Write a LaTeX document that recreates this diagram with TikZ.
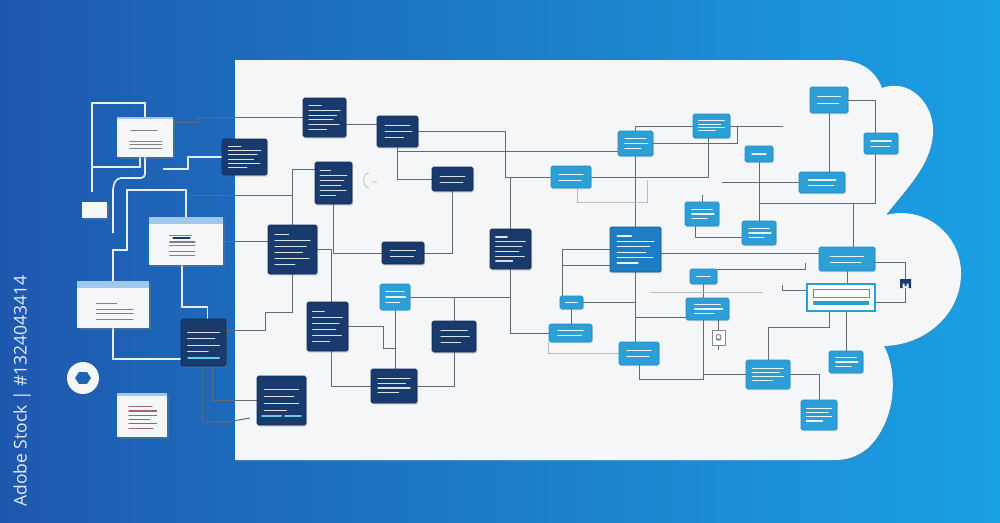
\documentclass[tikz,border=0pt]{standalone}
\usepackage{fontspec}
\usetikzlibrary{fit,shadows,shapes.geometric,calc}
\definecolor{bgL}{RGB}{30,88,174}
\definecolor{bgR}{RGB}{26,160,228}
\definecolor{navy}{RGB}{24,58,108}
\definecolor{navyB}{RGB}{16,42,86}
\definecolor{lblue}{RGB}{44,160,214}
\definecolor{lblueB}{RGB}{30,138,198}
\definecolor{mblue}{RGB}{30,124,194}
\definecolor{paper}{RGB}{245,246,248}
\definecolor{conn}{RGB}{100,106,116}
\definecolor{wline}{RGB}{230,238,248}
\definecolor{cardgray}{RGB}{128,128,138}
\definecolor{cyanbar}{RGB}{96,204,238}
\definecolor{hdr}{RGB}{160,200,232}
\definecolor{hexblue}{RGB}{32,100,180}
\newfontfamily\wmfont{Open Sans}
\pgfdeclarelayer{back}\pgfdeclarelayer{wires}
\pgfsetlayers{back,wires,main}
\def\lnA{0.2/0.14/0.42,0.32/0.14/0.86,0.44/0.14/0.78,0.56/0.14/0.7,0.68/0.14/0.84,0.8/0.14/0.55}
\def\lnB{0.28/0.15/0.85,0.42/0.15/0.75,0.56/0.15/0.85,0.7/0.15/0.6}
\def\lnC{0.3/0.2/0.8,0.5/0.2/0.85,0.7/0.2/0.65}
\def\lnD{0.38/0.2/0.8,0.64/0.2/0.75}
\def\lnE{0.5/0.25/0.75}
\def\lnWa{0.34/0.25/0.72,0.61/0.23/0.8,0.69/0.23/0.8,0.78/0.23/0.8}
\def\lnWc{0.39/0.28/0.57,0.52/0.28/0.62,0.6/0.28/0.62,0.72/0.28/0.62,0.8/0.28/0.62}
\def\lnWd{0.47/0.27/0.55,0.6/0.27/0.78,0.7/0.27/0.78,0.82/0.27/0.78}
\def\lnWf{0.3/0.24/0.7,0.41/0.24/0.79,0.52/0.24/0.79,0.61/0.24/0.65,0.7/0.24/0.79,0.8/0.24/0.72}
\newcommand\bx[8]{\node[#6, fit={(#2,#3) (#4,#5)}] (#1) {};
  \foreach \fy/\xa/\xb in #7 {\draw[txl, #8] ({#2+\xa*(#4-#2)},{#3+\fy*(#5-#3)}) -- ({#2+\xb*(#4-#2)},{#3+\fy*(#5-#3)});}}
\tikzset{
  navybox/.style={fill=navy, draw=navyB, line width=0.6pt, inner sep=0pt, rounded corners=1.5pt,
    drop shadow={shadow xshift=1.2pt, shadow yshift=-1.6pt, opacity=0.3}},
  lbox/.style={fill=lblue, draw=lblueB, line width=0.6pt, inner sep=0pt, rounded corners=1.5pt,
    drop shadow={shadow xshift=1pt, shadow yshift=-1.4pt, opacity=0.18}},
  mbox/.style={fill=mblue, draw=lblueB!70!black, line width=0.8pt, inner sep=0pt, rounded corners=1.5pt,
    drop shadow={shadow xshift=1pt, shadow yshift=-1.4pt, opacity=0.22}},
  card/.style={fill=paper, inner sep=0pt,
    drop shadow={shadow xshift=2pt, shadow yshift=-2pt, opacity=0.35}},
  txl/.style={line width=1.1pt, line cap=round},
  cl/.style={draw=conn, line width=1pt},
  faint/.style={draw=conn!45, line width=0.9pt},
  wl/.style={draw=wline, line width=1.7pt},
}
\begin{document}
\begin{tikzpicture}[x=1pt,y=-1pt]
\useasboundingbox (0,0) rectangle (1000,522);
\begin{pgfonlayer}{back}
\fill[left color=bgL, right color=bgR] (0,0) rectangle (1000,522);
\path[fill=paper, drop shadow={shadow xshift=1.5pt, shadow yshift=-2pt, opacity=0.18}]
  (235,60) -- (838,60)
  .. controls (862,60) and (876,72) .. (882,88)
  .. controls (908,78) and (934,102) .. (933,132)
  .. controls (932,165) and (905,190) .. (886,215)
  .. controls (925,205) and (962,235) .. (961,275)
  .. controls (960,315) and (925,345) .. (884,346)
  .. controls (898,372) and (897,420) .. (868,448)
  .. controls (858,456) and (848,460) .. (835,460)
  -- (235,460) -- cycle;
\end{pgfonlayer}

% watermark caption
\node[rotate=90, text=white!88!bgL, font=\wmfont\fontsize{17.5}{20}\selectfont] (wm) at (22,391) {Adobe Stock | \#1324043414};

% white cards on the blue
\bx{W1}{117}{117}{173}{157}{card}{\lnWa}{cardgray}
\fill[hdr] (W1.north west) rectangle ([yshift=-2]W1.north east);
\node[card, fit={(82,202) (107,218)}] (W2) {};
\bx{W3}{149}{217}{223}{265}{card}{\lnWc}{cardgray}
\fill[hdr] (W3.north west) rectangle ([yshift=-7]W3.north east);
\draw[txl, navy] (173,238) -- (190,238);
\bx{W4}{77}{281}{149}{328}{card}{\lnWd}{cardgray}
\fill[hdr] (W4.north west) rectangle ([yshift=-7]W4.north east);
\node[circle, fill=paper, minimum size=32pt, inner sep=0pt] (W5) at (83,378) {};
\node[regular polygon, regular polygon sides=6, fill=hexblue, minimum size=16pt, inner sep=0pt, yscale=0.85] (W5i) at (W5) {};
\bx{W6}{117}{393}{167}{437}{card}{\lnWf}{cardgray!80!red}
\fill[hdr] (W6.north west) rectangle ([yshift=-3]W6.north east);

% navy boxes
\bx{D1}{303}{98}{346}{137}{navybox}{\lnA}{white!85!navy}
\bx{D2}{222}{139}{267}{175}{navybox}{\lnA}{white!85!navy}
\bx{D3}{268}{225}{317}{274}{navybox}{\lnA}{white!85!navy}
\bx{D4}{315}{162}{352}{204}{navybox}{\lnA}{white!85!navy}
\bx{D5}{181}{319}{226}{366}{navybox}{\lnB}{white!85!navy}
\draw[txl, cyanbar, line width=2pt] (188,358) -- (219,358);
\bx{D6}{257}{376}{306}{425}{navybox}{\lnB}{white!85!navy}
\draw[txl, cyanbar, line width=2pt] (262,416) -- (281,416) (285,416) -- (301,416);
\bx{D7}{377}{116}{418}{147}{navybox}{\lnC}{white!85!navy}
\bx{D8}{432}{167}{473}{191}{navybox}{\lnD}{white!85!navy}
\bx{D9}{382}{242}{424}{264}{navybox}{\lnD}{white!85!navy}
\bx{D10}{490}{229}{531}{269}{navybox}{\lnA}{white!85!navy}
\bx{D11}{307}{302}{348}{351}{navybox}{\lnA}{white!85!navy}
\bx{D12}{432}{321}{476}{352}{navybox}{\lnC}{white!85!navy}
\bx{D13}{371}{369}{417}{403}{navybox}{\lnB}{white!85!navy}

% light blue boxes
\bx{L1}{380}{284}{410}{310}{lbox}{\lnC}{white!90!lblue}
\bx{L2}{551}{166}{591}{188}{lbox}{\lnD}{white!90!lblue}
\bx{L3}{618}{131}{653}{156}{lbox}{\lnC}{white!90!lblue}
\bx{L4}{693}{114}{730}{138}{lbox}{\lnB}{white!90!lblue}
\bx{L5}{745}{146}{773}{162}{lbox}{\lnE}{white!90!lblue}
\bx{L6}{685}{202}{719}{226}{lbox}{\lnC}{white!90!lblue}
\bx{L7}{742}{221}{776}{245}{lbox}{\lnC}{white!90!lblue}
\bx{L8}{610}{227}{661}{272}{mbox}{\lnA}{white!90!lblue}
\bx{L9}{810}{87}{848}{113}{lbox}{\lnD}{white!90!lblue}
\bx{L10}{864}{133}{898}{154}{lbox}{\lnD}{white!90!lblue}
\bx{L11}{799}{172}{845}{193}{lbox}{\lnD}{white!90!lblue}
\bx{L12}{819}{247}{875}{271}{lbox}{\lnD}{white!90!lblue}
\node[fill=white, draw=lblue, line width=2pt, inner sep=0pt, fit={(807,284) (875,311)},
  drop shadow={shadow xshift=1pt, shadow yshift=-1.4pt, opacity=0.18}] (L13) {};
\draw[lblue, line width=0.9pt] (813,289) rectangle (869,297);
\fill[lblue] (813,301) rectangle (869,305);
\bx{L14}{829}{351}{863}{373}{lbox}{\lnC}{white!90!lblue}
\bx{L15}{746}{360}{790}{389}{lbox}{\lnB}{white!90!lblue}
\bx{L16}{801}{400}{837}{430}{lbox}{\lnB}{white!90!lblue}
\bx{L17}{690}{269}{717}{284}{lbox}{\lnE}{white!90!lblue}
\bx{L18}{686}{298}{729}{320}{lbox}{\lnC}{white!90!lblue}
\bx{L19}{560}{296}{583}{309}{lbox}{\lnE}{white!90!lblue}
\bx{L20}{549}{324}{592}{342}{lbox}{\lnD}{white!90!lblue}
\bx{L21}{619}{342}{659}{365}{lbox}{\lnD}{white!90!lblue}

% small icons
\node[inner sep=0pt, minimum width=11pt, minimum height=9pt] (icon) at (905.5,283.5) {};
\fill[navy] (900,279) rectangle (911,283.5) (900,283) rectangle (902.5,288) (908.5,283) rectangle (911,288) (904.5,283) rectangle (906.5,286);
\node[draw=conn!80, fill=white, line width=0.7pt, inner sep=0pt, fit={(712,330) (725,345)}] (ic2) {};
\draw[conn, line width=0.7pt] (718.5,337) circle (2.5pt) (716,340) -- (721,340);
\draw[conn!45, line width=0.7pt] (369,173) .. controls (362,173) and (362,188) .. (369,188) (372,182) -- (377,182);

\begin{pgfonlayer}{wires}
% white lines on the blue
\draw[wl] (W1.north) -- ++(0,-14) -| (92,192);
\draw[wl] (92,167) -| ([xshift=-5]W1.south);
\draw[wl, rounded corners=4pt] (W1.south) -- (145,178) -- (117,178) -- (113,186) -- (113,233);
\draw[wl] (W4.north) -- (113,250) -| (127,190) -| (W3.north);
\draw[wl] (163,169) -| (188,157) -- (D2.west);
\draw[wl] ([xshift=-4]W3.south) -- (182,307) -| ([xshift=4]D5.north);
\draw[wl] (W4.south) |- ([yshift=-16.5]D5.west);
% grey connectors
\draw[cl] ([yshift=15]W1.east) -- (198,122) |- (D1.west);
\draw[cl] (190,195) -- (292.5,195);
\draw[cl] ([yshift=14]D4.west) -| (D3.north);
\draw[cl] (W3.east) -- (W3.east -| D3.west);
\draw[cl] ([yshift=12.5]D5.east) -| (265,312) -| (D3.south);
\draw[cl] ([xshift=-1.5]D5.south) |- (227,422) -- (250,418);
\draw[cl] ([xshift=8.5]D5.south) |- (D6.west);
\draw[cl] ([yshift=-7]D1.east) -- ([yshift=-7]D1.east -| D7.west);
\draw[cl] (D7.east) -| (505,177) -- (L2.west);
\draw[cl] (D10.north) -- (D10.north |- L2.west);
\draw[cl] (D7.south) |- (D8.west);
\draw[cl] ([yshift=-4]D7.south) -- ([yshift=-4]D7.south -| L3.west);
\draw[cl] (D8.south) |- (D9.east);
\draw[cl] (D4.south) |- (D9.west);
\draw[cl] (D3.east) -| ([xshift=4]D11.north);
\draw[cl] (L1.south) -- (L1.south |- D13.north);
\draw[cl] (D11.east) -| (383,348) -- (L1.south |- 0,348);
\draw[cl] ([xshift=4]D11.south) |- (D13.west);
\draw[cl] (D13.east) -| (D12.south);
\draw[cl] (D12.north) -- (D12.north |- L1.east);
\draw[cl] (L1.east) -- (L1.east -| D10.south);
\draw[cl] (D10.south) |- (L20.west);
\draw[cl] (L2.east) -| ([xshift=-3]L4.south);
\draw[cl] (L3.north) |- (L4.west);
\draw[cl] (L3.east) -| (737,126) -- (L4.east);
\draw[cl] (L4.east) -- (783,126);
\draw[cl] (L3.south) -- (L8.north);
\draw[faint] ([xshift=6]L2.south) |- (647,202) -- (647,180);
\draw[cl] ([yshift=-3.5]L8.east) -- ([yshift=-3.5]L8.east -| L12.west);
\draw[cl] (L8.west) -| ([xshift=-9.5]L19.north);
\draw[cl] ([yshift=-15.5]L8.west) -- ++(-48,0);
\draw[cl] (L19.south) -- (L19.south |- L20.north);
\draw[cl] (L19.east) -- (L19.east -| L8.south);
\draw[cl] (L8.south) -- (L8.south |- L21.north);
\draw[cl] ([yshift=-8]L18.west) -- ([yshift=-8]L18.west -| L8.south);
\draw[faint] (L20.south west) |- (L21.west);
\draw[cl] (L21.south) -- ++(0,14) -| ([xshift=-4.5]L18.south);
\draw[cl] (L15.west) -- ([xshift=-4.5]L18.south |- L15.west);
\draw[cl] (L17.south) -- (L17.south |- L18.north);
\draw[cl] ([yshift=7.5]L17.east) -- (805,269) -- (805,263);
\draw[faint] (650,292) -- (763,292);
\draw[cl] ([yshift=7.5]L13.west) -- (782,290) -- (782,285);
\draw[cl] (L5.south) -- (L7.north);
\draw[cl] (L6.north) -- ++(0,-7);
\draw[cl] ([xshift=-7]L6.south) |- ([yshift=-4]L7.west);
\draw[cl] (L9.south) -- (L9.south |- L11.north);
\draw[cl] (L9.east) -| ([xshift=-6]L10.north);
\draw[cl] ([xshift=-6]L10.south) |- (L5.south |- 0,203);
\draw[cl] ([xshift=6]L12.north) -- ++(0,-44);
\draw[cl] (L11.west) -- ++(-77,0);
\draw[cl] ([yshift=-3]L12.east) -| (icon.north);
\draw[cl] ([yshift=-4.5]L13.east) -| (icon.south);
\draw[cl] (L12.south) -- (L12.south |- L13.north);
\draw[cl] ([xshift=-11.5]L13.south) -- ++(0,15) -| (L15.north);
\draw[cl] (L14.north) -- (L14.north |- L13.south);
\draw[cl] (L15.east) -| (L16.north);
\draw[cl] ([xshift=11]L18.south) -- (ic2.north);
\draw[cl] (ic2.south) -- ++(0,5);
\end{pgfonlayer}
\end{tikzpicture}
\end{document}
